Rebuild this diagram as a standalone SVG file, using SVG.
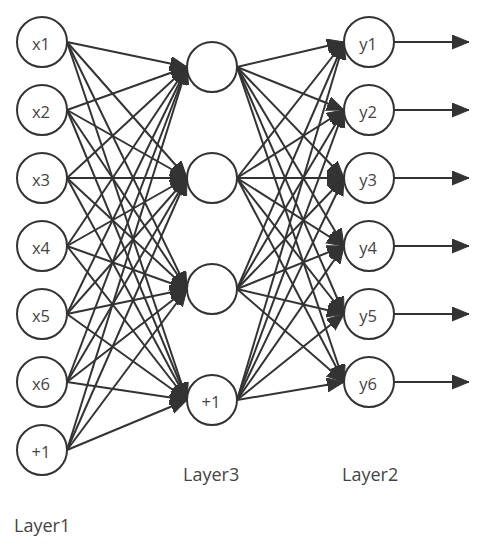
<svg xmlns="http://www.w3.org/2000/svg" width="485" height="550" viewBox="0 0 485 550">
<defs>
<marker id="ah" markerUnits="userSpaceOnUse" markerWidth="19" markerHeight="15" refX="17" refY="7" orient="auto">
<path d="M0,0 L17,7 L0,14 z" fill="#333" stroke="#333" stroke-width="1"/>
</marker>
</defs>
<style>
.n circle{fill:#fff;stroke:#333;stroke-width:2}
.n text{font-family:"Open Sans","Noto Sans",sans-serif;font-size:16.5px;fill:#444;text-anchor:middle}
.e line{stroke:#333;stroke-width:2;marker-end:url(#ah)}
.lbl{font-family:"Open Sans","Noto Sans",sans-serif;font-size:18px;fill:#444}
</style>
<rect width="485" height="550" fill="#fff"/>
<g id="edges" class="e">
<line x1="67" y1="42" x2="187" y2="67"/><line x1="67" y1="42" x2="187" y2="178"/><line x1="67" y1="42" x2="187" y2="289"/><line x1="67" y1="42" x2="187" y2="400"/>
<line x1="67" y1="110" x2="187" y2="67"/><line x1="67" y1="110" x2="187" y2="178"/><line x1="67" y1="110" x2="187" y2="289"/><line x1="67" y1="110" x2="187" y2="400"/>
<line x1="67" y1="178" x2="187" y2="67"/><line x1="67" y1="178" x2="187" y2="178"/><line x1="67" y1="178" x2="187" y2="289"/><line x1="67" y1="178" x2="187" y2="400"/>
<line x1="67" y1="246" x2="187" y2="67"/><line x1="67" y1="246" x2="187" y2="178"/><line x1="67" y1="246" x2="187" y2="289"/><line x1="67" y1="246" x2="187" y2="400"/>
<line x1="67" y1="314" x2="187" y2="67"/><line x1="67" y1="314" x2="187" y2="178"/><line x1="67" y1="314" x2="187" y2="289"/><line x1="67" y1="314" x2="187" y2="400"/>
<line x1="67" y1="382" x2="187" y2="67"/><line x1="67" y1="382" x2="187" y2="178"/><line x1="67" y1="382" x2="187" y2="289"/><line x1="67" y1="382" x2="187" y2="400"/>
<line x1="67" y1="450" x2="187" y2="67"/><line x1="67" y1="450" x2="187" y2="178"/><line x1="67" y1="450" x2="187" y2="289"/><line x1="67" y1="450" x2="187" y2="400"/>
<line x1="237" y1="67" x2="344" y2="42"/><line x1="237" y1="67" x2="344" y2="110"/><line x1="237" y1="67" x2="344" y2="178"/><line x1="237" y1="67" x2="344" y2="246"/><line x1="237" y1="67" x2="344" y2="314"/><line x1="237" y1="67" x2="344" y2="382"/>
<line x1="237" y1="178" x2="344" y2="42"/><line x1="237" y1="178" x2="344" y2="110"/><line x1="237" y1="178" x2="344" y2="178"/><line x1="237" y1="178" x2="344" y2="246"/><line x1="237" y1="178" x2="344" y2="314"/><line x1="237" y1="178" x2="344" y2="382"/>
<line x1="237" y1="289" x2="344" y2="42"/><line x1="237" y1="289" x2="344" y2="110"/><line x1="237" y1="289" x2="344" y2="178"/><line x1="237" y1="289" x2="344" y2="246"/><line x1="237" y1="289" x2="344" y2="314"/><line x1="237" y1="289" x2="344" y2="382"/>
<line x1="237" y1="400" x2="344" y2="42"/><line x1="237" y1="400" x2="344" y2="110"/><line x1="237" y1="400" x2="344" y2="178"/><line x1="237" y1="400" x2="344" y2="246"/><line x1="237" y1="400" x2="344" y2="314"/><line x1="237" y1="400" x2="344" y2="382"/>
<line x1="394" y1="42" x2="469" y2="42"/><line x1="394" y1="110" x2="469" y2="110"/><line x1="394" y1="178" x2="469" y2="178"/><line x1="394" y1="246" x2="469" y2="246"/><line x1="394" y1="314" x2="469" y2="314"/><line x1="394" y1="382" x2="469" y2="382"/>
</g>
<g id="x1" class="n"><circle cx="42" cy="42" r="25"/><text x="41" y="50">x1</text></g>
<g id="x2" class="n"><circle cx="42" cy="110" r="25"/><text x="41" y="118">x2</text></g>
<g id="x3" class="n"><circle cx="42" cy="178" r="25"/><text x="41" y="186">x3</text></g>
<g id="x4" class="n"><circle cx="42" cy="246" r="25"/><text x="41" y="254">x4</text></g>
<g id="x5" class="n"><circle cx="42" cy="314" r="25"/><text x="41" y="322">x5</text></g>
<g id="x6" class="n"><circle cx="42" cy="382" r="25"/><text x="41" y="390">x6</text></g>
<g id="b1" class="n"><circle cx="42" cy="450" r="25"/><text x="41" y="458">+1</text></g>
<g id="h1" class="n"><circle cx="212" cy="67" r="25"/></g>
<g id="h2" class="n"><circle cx="212" cy="178" r="25"/></g>
<g id="h3" class="n"><circle cx="212" cy="289" r="25"/></g>
<g id="b2" class="n"><circle cx="212" cy="400" r="25"/><text x="211" y="408">+1</text></g>
<g id="y1" class="n"><circle cx="369" cy="42" r="25"/><text x="368" y="50">y1</text></g>
<g id="y2" class="n"><circle cx="369" cy="110" r="25"/><text x="368" y="118">y2</text></g>
<g id="y3" class="n"><circle cx="369" cy="178" r="25"/><text x="368" y="186">y3</text></g>
<g id="y4" class="n"><circle cx="369" cy="246" r="25"/><text x="368" y="254">y4</text></g>
<g id="y5" class="n"><circle cx="369" cy="314" r="25"/><text x="368" y="322">y5</text></g>
<g id="y6" class="n"><circle cx="369" cy="382" r="25"/><text x="368" y="390">y6</text></g>
<g id="labels">
<text class="lbl" x="183" y="481">Layer3</text>
<text class="lbl" x="342" y="481">Layer2</text>
<text class="lbl" x="14" y="532">Layer1</text>
</g>
</svg>
